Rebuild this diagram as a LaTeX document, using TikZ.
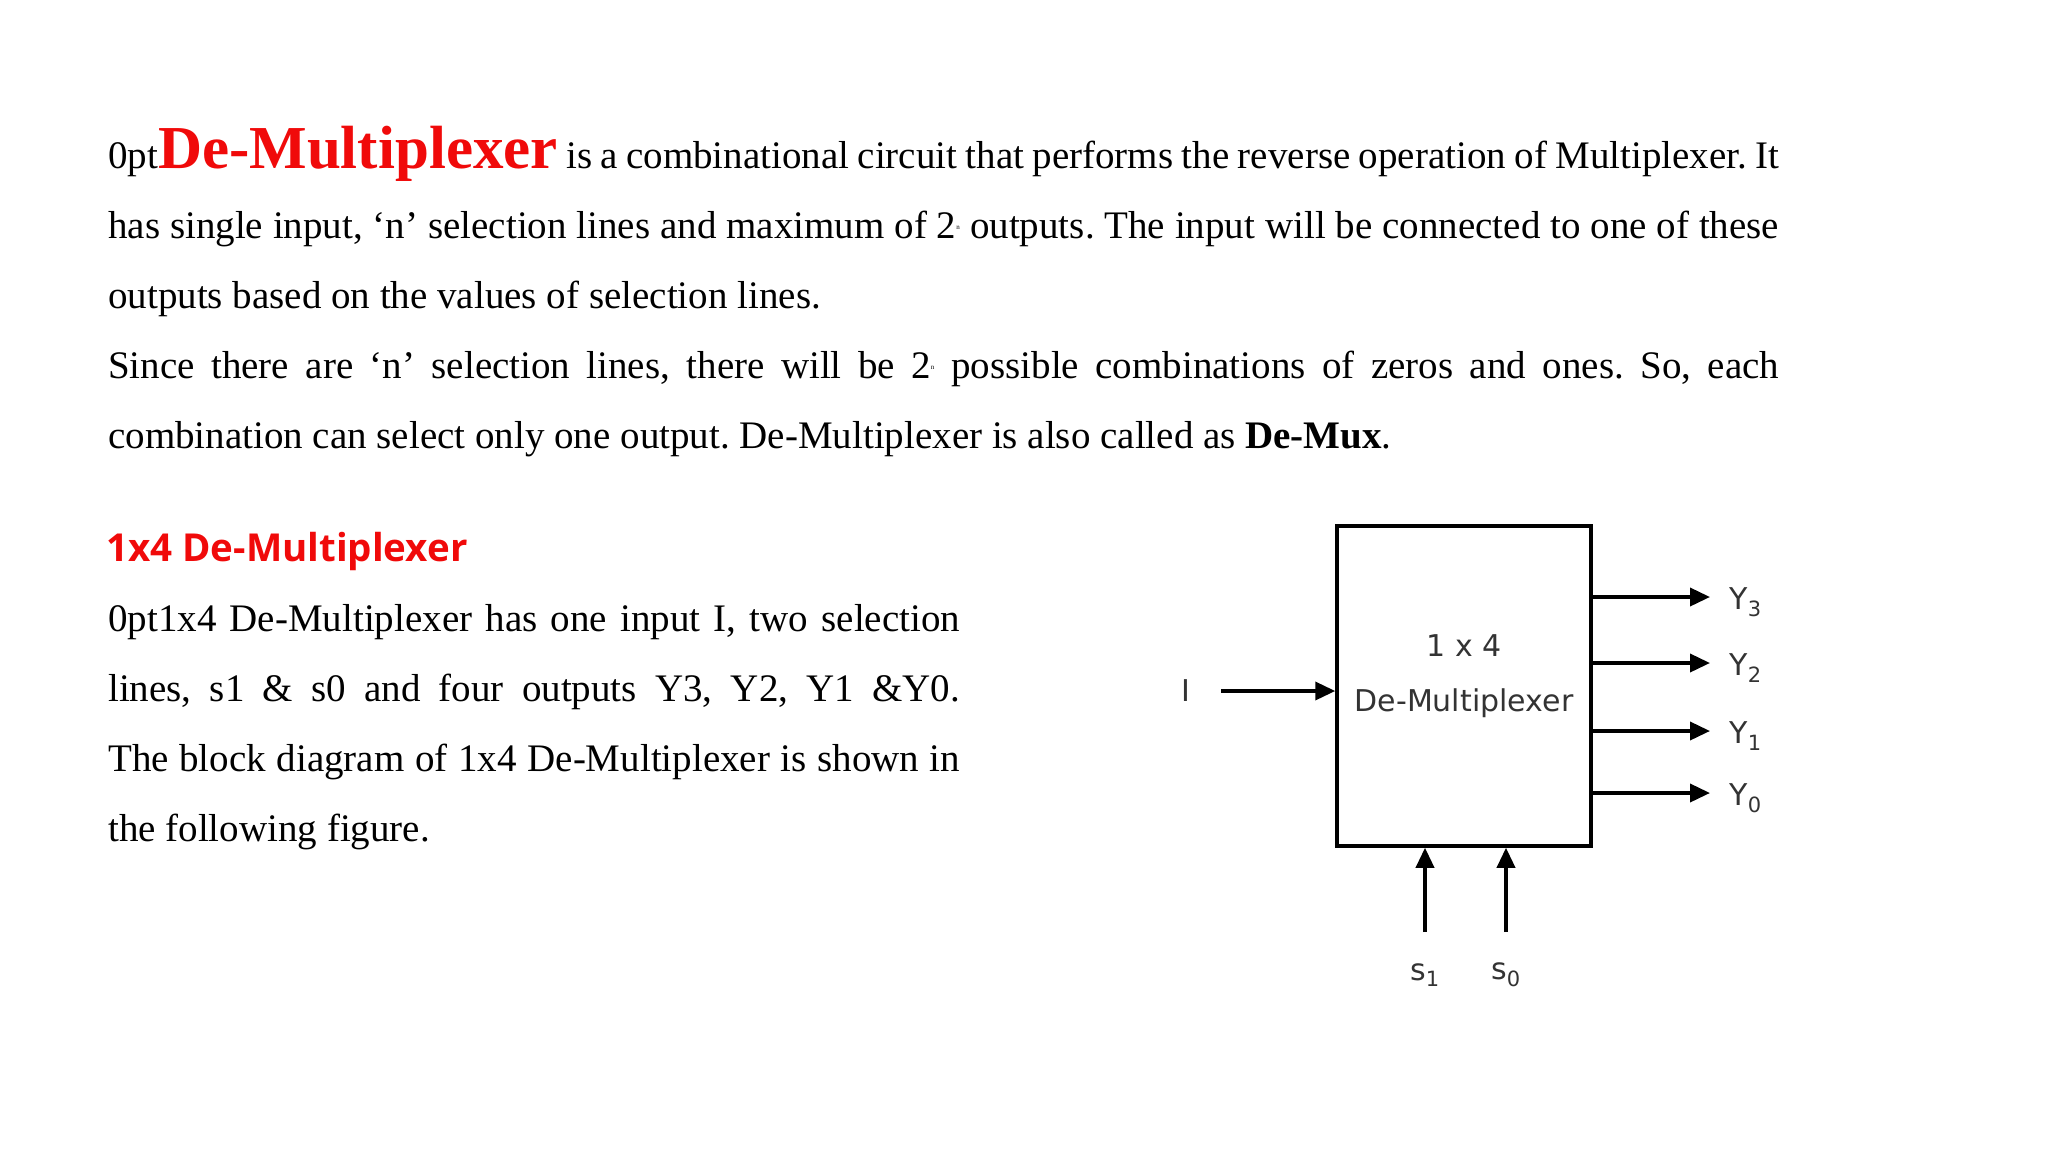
\documentclass[tikz,border=0pt]{standalone}
\usepackage{fontspec}
\setmainfont{Liberation Serif}
\newfontfamily\hsans{Open Sans}
\newfontfamily\dsans{DejaVu Sans}
\usetikzlibrary{arrows.meta}
\definecolor{myred}{RGB}{240,10,10}
\begin{document}
\begin{tikzpicture}[x=1pt,y=-1pt,
  body/.style={anchor=north west,inner sep=0,align=justify,font=\fontsize{39}{70}\selectfont\frenchspacing\hyphenpenalty=10000},
  wire/.style={line width=3.6pt,-{Triangle[length=20pt,width=18pt]}},
  lab/.style={font=\dsans\fontsize{30}{34}\selectfont,text=black!80}]
\useasboundingbox (0,0) rectangle (2048,1152);
\node[body,text width=1671pt] (p1) at (108,126) {{\color{myred}\bfseries\fontsize{61}{62}\selectfont De-Multiplexer} is a combinational circuit that performs the reverse operation of Multiplexer. It\linebreak has single input, ‘n’ selection lines and maximum of 2\textsuperscript{\scriptsize n} outputs. The input will be connected to one of these\linebreak outputs based on the values of selection lines.\\
Since there are ‘n’ selection lines, there will be 2\textsuperscript{\scriptsize n} possible combinations of zeros and ones. So, each\linebreak combination can select only one output. De-Multiplexer is also called as \textbf{De-Mux}.};
\node[anchor=west,inner sep=0,text=myred,font=\hsans\bfseries\fontsize{38.5}{40}\selectfont] (h) at (106,551) {1x4 De-Multiplexer};
\node[body,text width=852pt] (p2) at (108,604) {1x4 De-Multiplexer has one input I, two selection\linebreak lines, s1 \& s0 and four outputs Y3, Y2, Y1 \&Y0.\linebreak The block diagram of 1x4 De-Multiplexer is shown in\linebreak the following figure.};
% diagram
\node[draw,line width=3.5pt,minimum width=254pt,minimum height=320pt,inner sep=0] (box) at (1464,686) {};
\node[lab] (t1) at (1464,646) {1 x 4};
\node[lab] (t2) at (1464,703) {De-Multiplexer};
\node[lab] (I) at (1186,691) {I};
\coordinate (Iin) at (1221,691);
\draw[wire] (Iin) -- (box.west |- Iin);
\foreach \n/\y in {3/597,2/663,1/731,0/793}{
  \coordinate (o\n) at (box.east |- 0,\y);
  \coordinate (e\n) at (1710,\y);
  \draw[wire] (o\n) -- (e\n);
  \node[lab,anchor=west] (Y\n) at (1726,\y+5) {Y\textsubscript{\n}};
}
\foreach \n/\x in {1/1425,0/1506}{
  \coordinate (sb\n) at (\x,932);
  \draw[wire] (sb\n) -- (box.south -| sb\n);
  \node[lab] (s\n) at (\x,975) {s\textsubscript{\n}};
}
\end{tikzpicture}
\end{document}
